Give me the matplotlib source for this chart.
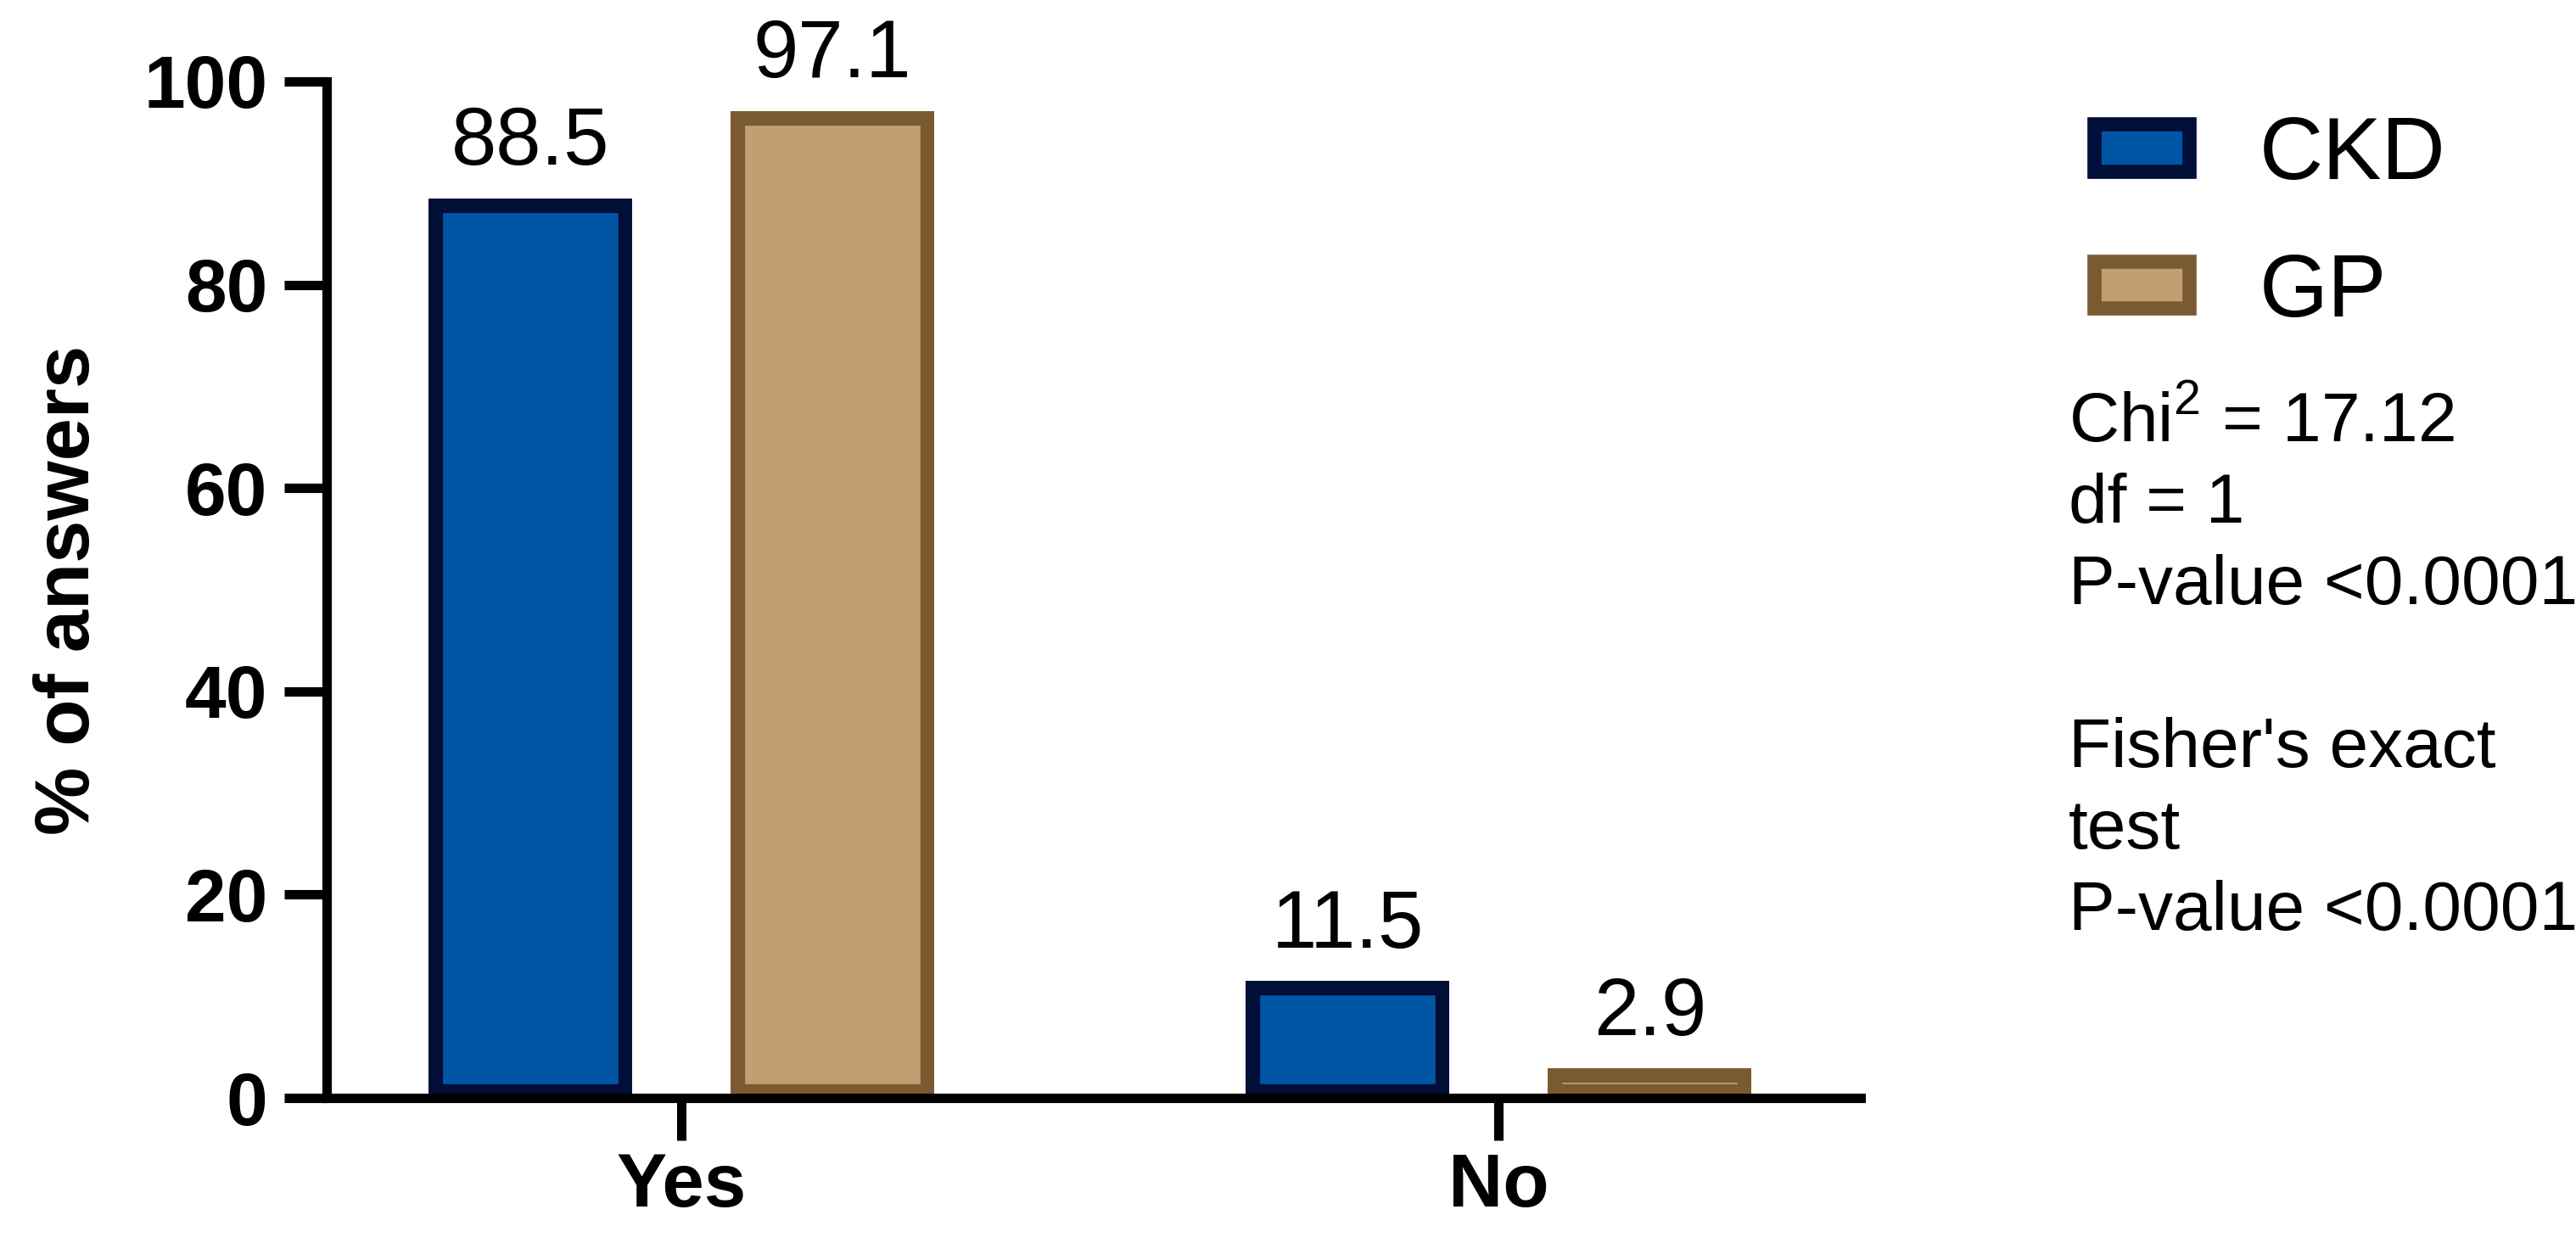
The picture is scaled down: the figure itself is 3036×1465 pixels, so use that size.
import numpy as np
import matplotlib
matplotlib.use("Agg")
import matplotlib.pyplot as plt
from matplotlib.patches import Patch

# data
categories = ["Yes", "No"]
ckd = [88.5, 11.5]
gp = [97.1, 2.9]
yticks = [0, 20, 40, 60, 80, 100]
stats_lines = ["Chi$^2$ = 17.12", "df = 1", "P-value <0.0001", "",
               "Fisher's exact", "test", "P-value <0.0001"]

CKD_FILL, CKD_EDGE = "#0055a5", "#000e38"
GP_FILL, GP_EDGE = "#c29f71", "#7a5b31"

plt.rcParams["font.family"] = ["Liberation Sans", "DejaVu Sans"]
plt.rcParams["mathtext.fontset"] = "custom"
plt.rcParams["mathtext.rm"] = "Liberation Sans"

fig = plt.figure(figsize=(30.36, 14.65), dpi=100)
ax = fig.add_axes([0.1268, 0.1167, 0.5955, 0.8178])

x = np.arange(len(categories))
w = 0.249
off = 0.185
b1 = ax.bar(x - off, ckd, w, color=CKD_FILL, edgecolor=CKD_EDGE, linewidth=24, zorder=2)
b2 = ax.bar(x + off, gp, w, color=GP_FILL, edgecolor=GP_EDGE, linewidth=24, zorder=2)
# border drawn inside the bar, like prism does
for p in list(b1) + list(b2):
    p.set_clip_path(p)

for bars, vals in ((b1, ckd), (b2, gp)):
    for p, v in zip(bars, vals):
        ax.annotate(f"{v}", (p.get_x() + p.get_width() / 2, v), xytext=(0, 14),
                    textcoords="offset points", ha="center", va="bottom", fontsize=69)

ax.set_xlim(-0.434, 1.443)
ax.set_ylim(0, 100)
ax.set_xticks(x)
ax.set_xticklabels(categories, fontsize=64, fontweight="bold")
ax.set_yticks(yticks)
ax.set_yticklabels([str(t) for t in yticks], fontsize=63, fontweight="bold")
ax.tick_params(axis="both", length=36, width=8, color="black")
ax.tick_params(axis="y", pad=14)
ax.tick_params(axis="x", pad=9)
for s in ("top", "right"):
    ax.spines[s].set_visible(False)
for s in ("left", "bottom"):
    ax.spines[s].set_linewidth(8)
    ax.spines[s].set_zorder(3)

fig.text(0.027, 0.5255, "% of answers", rotation=90, ha="center", va="center",
         fontsize=65, fontweight="bold")

handles = [Patch(facecolor=CKD_FILL, edgecolor=CKD_EDGE, linewidth=12),
           Patch(facecolor=GP_FILL, edgecolor=GP_EDGE, linewidth=12)]
fig.legend(handles, ["CKD", "GP"], loc="upper left", bbox_to_anchor=(0.813, 0.907),
           frameon=False, fontsize=75, handlelength=1.07, handleheight=0.44,
           handletextpad=0.8, labelspacing=0.62, borderpad=0, borderaxespad=0)

y0 = 1 - 520 / 1465
step = 96 / 1465
for i, line in enumerate(stats_lines):
    if line:
        fig.text(0.803, y0 - i * step, line, fontsize=59, va="baseline", ha="left")

fig.savefig("out.png", dpi=100)
